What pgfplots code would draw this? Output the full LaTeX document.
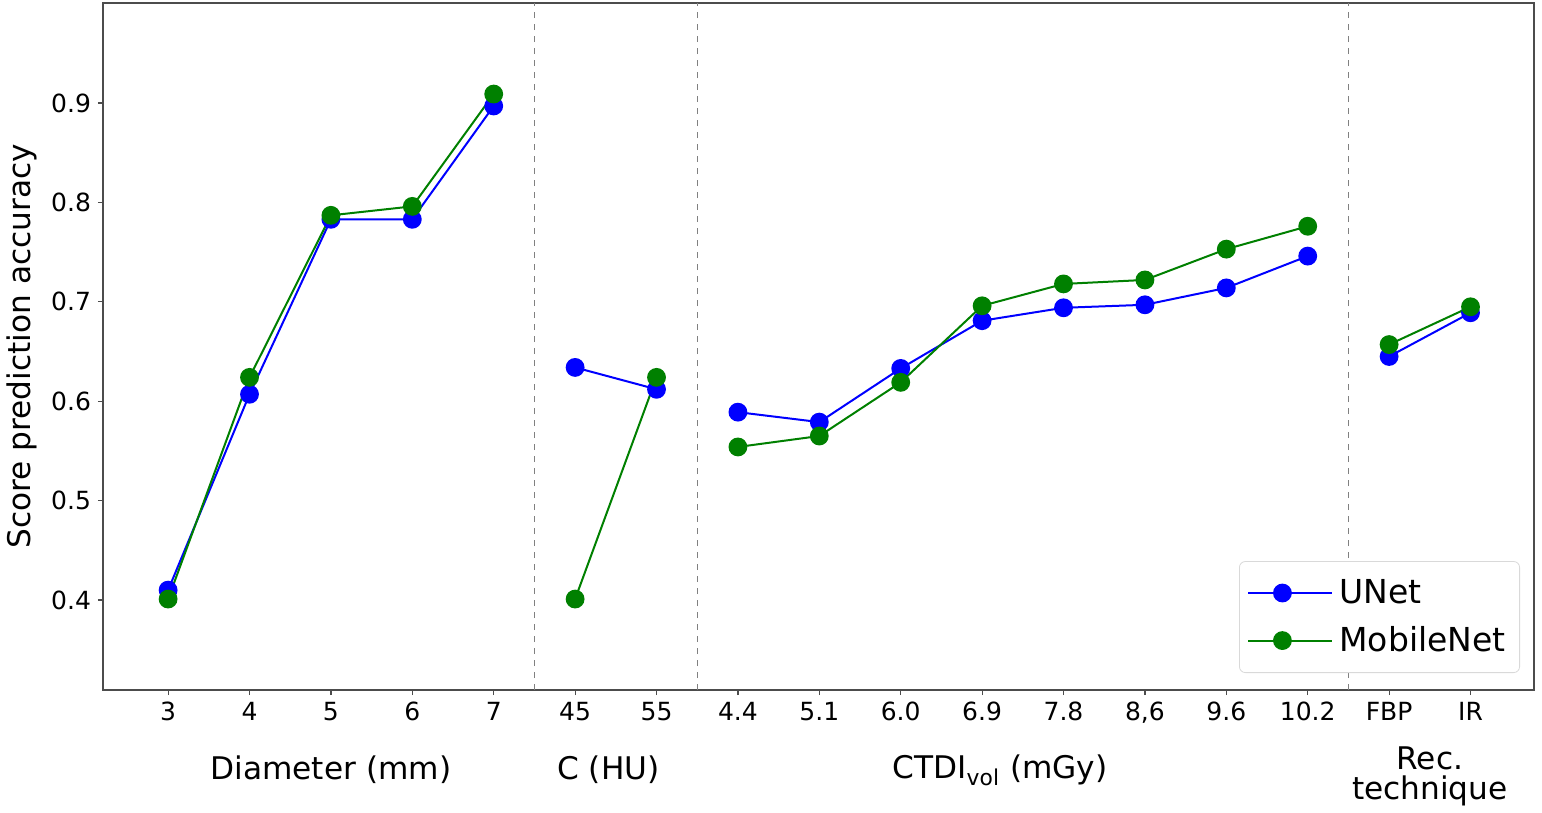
\documentclass[border=0pt]{standalone}
\usepackage{pgfplots}
\pgfplotsset{compat=1.18}
\usepackage{pgfplotstable}
\usepackage{fontspec}
\setmainfont{DejaVu Sans}
\definecolor{mplblue}{RGB}{0,0,255}
\definecolor{mplgreen}{RGB}{0,128,0}
\pgfplotstableread{
x u m
0 0.410 0.401
1 0.607 0.624
2 0.783 0.787
3 0.783 0.796
4 0.897 0.909
4.5 nan nan
5 0.634 0.401
6 0.612 0.624
6.5 nan nan
7 0.589 0.554
8 0.579 0.565
9 0.633 0.619
10 0.681 0.696
11 0.694 0.718
12 0.697 0.722
13 0.714 0.753
14 0.746 0.776
14.5 nan nan
15 0.645 0.657
16 0.689 0.695
}\datatab
\begin{document}
\begin{tikzpicture}
\begin{axis}[
  scale only axis,
  width=715.5pt, height=343.5pt,
  xmin=-0.8, xmax=16.78,
  ymin=0.3095, ymax=1.0006,
  xtick={0,...,16},
  xticklabels={3,4,5,6,7,45,55,4.4,5.1,6.0,6.9,7.8,{8,6},9.6,10.2,FBP,IR},
  ytick={0.4,0.5,0.6,0.7,0.8,0.9},
  yticklabel style={/pgf/number format/fixed,/pgf/number format/fixed zerofill,/pgf/number format/precision=1},
  /pgf/number format/assume math mode=true,
  tick label style={font=\fontsize{12.5}{14}\selectfont},
  tick align=outside, xtick pos=bottom, ytick pos=left,
  major tick length=2.5pt,
  axis line style={black!70, line width=0.6pt},
  every tick/.style={black!70, line width=0.6pt},
  unbounded coords=jump,
  clip=false,
  legend image code/.code={\draw[mark repeat=2,mark phase=2,#1] plot coordinates {(0pt,0pt)(17pt,0pt)(34pt,0pt)};
    \path (0pt,0pt) -- (42pt,0pt);},
  legend style={at={(rel axis cs:1,0)}, anchor=south east, xshift=-7pt, yshift=8.5pt,
    font=\fontsize{16.5}{20}\selectfont, draw=black!15, rounded corners=3pt,
    row sep=6pt, inner xsep=4pt, inner ysep=7pt,
    nodes={inner xsep=3pt}},
  legend cell align=left,
]
\addplot[mplblue, line width=1pt, mark=*, mark size=4.2pt, mark options={solid}] table[x=x, y=u] {\datatab};
\addlegendentry{UNet}
\addplot[mplgreen, line width=1pt, mark=*, mark size=4.2pt, mark options={solid}] table[x=x, y=m] {\datatab};
\addlegendentry{MobileNet}
\foreach \xv in {4.5,6.5,14.5}{
  \edef\tmp{\noexpand\draw[gray, dashed, line width=0.6pt] (axis cs:\xv,0.3095) -- (axis cs:\xv,1.0006);}
  \tmp
}
\node[rotate=90, font=\fontsize{15.6}{18}\selectfont] at ([xshift=-40.5pt]rel axis cs:0,0.5) {Score prediction accuracy};
\node[font=\fontsize{15.6}{18}\selectfont] at ([yshift=-40pt]axis cs:2,0.3095) {Diameter (mm)};
\node[font=\fontsize{15.6}{18}\selectfont] at ([yshift=-40pt]axis cs:5.41,0.3095) {C (HU)};
\node[font=\fontsize{15.6}{18}\selectfont] at ([yshift=-40pt]axis cs:10.22,0.3095) {CTDI\textsubscript{vol} (mGy)};
\node[font=\fontsize{15.6}{15}\selectfont, align=center, anchor=north] at ([yshift=-25pt]axis cs:15.5,0.3095) {Rec.\\technique};
\path ([xshift=-51.5pt,yshift=-59pt]rel axis cs:0,0) rectangle ([xshift=4pt,yshift=1.5pt]rel axis cs:1,1);
\end{axis}
\end{tikzpicture}
\end{document}
